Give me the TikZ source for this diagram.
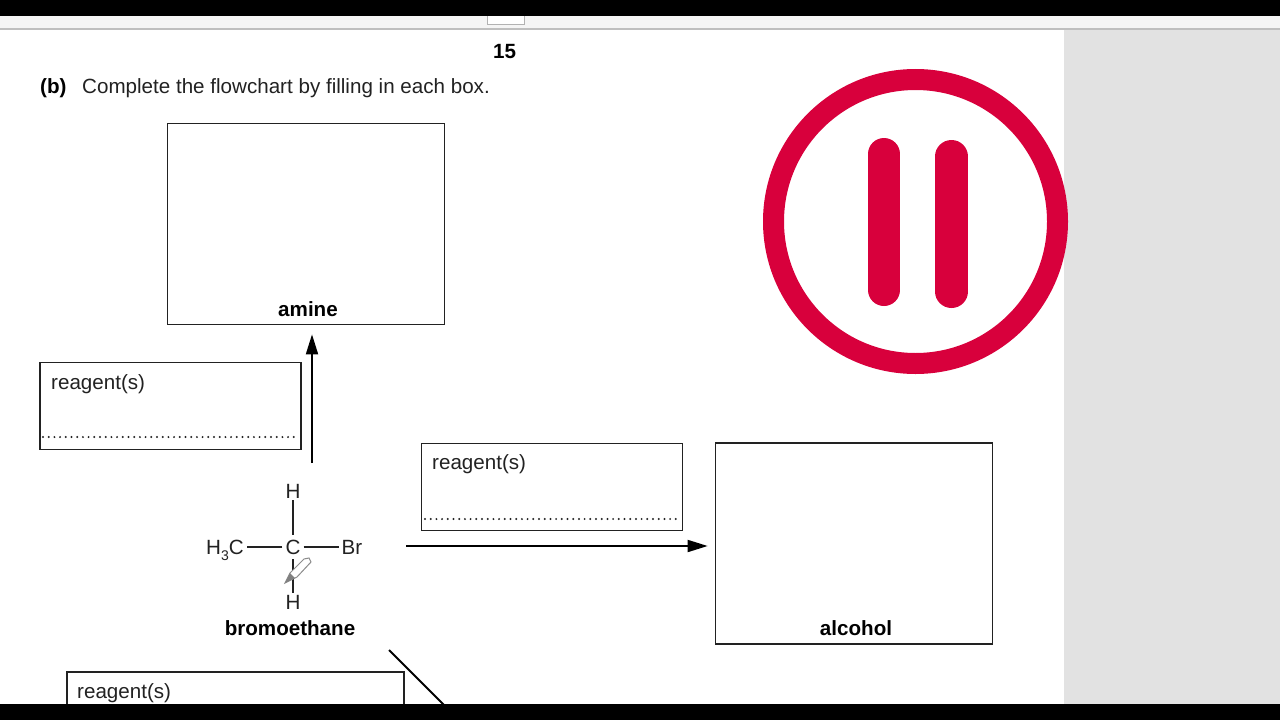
\documentclass[tikz,border=0pt]{standalone}
\usepackage{fontspec}
\setmainfont{Liberation Sans}
\usepackage{tikz}

\definecolor{pausered}{HTML}{D8003C}
\definecolor{inkgrey}{HTML}{222222}
\definecolor{panelgrey}{HTML}{E2E2E2}
\definecolor{barwhite}{HTML}{F5F5F5}

\tikzset{
    answerbox/.style={draw=inkgrey, line width=1.7pt, minimum width=277pt, minimum height=201pt, inner sep=0pt},
    reagentbox/.style={draw=inkgrey, line width=1.7pt, minimum width=261pt, minimum height=87pt, inner sep=0pt},
    label/.style={font=\fontsize{20.6}{24}\selectfont, text=inkgrey, inner sep=0pt},
    boldlabel/.style={font=\fontsize{20.6}{24}\selectfont\bfseries, text=black, inner sep=0pt},
    atom/.style={font=\fontsize{20.6}{24}\selectfont, text=inkgrey, inner xsep=3pt, inner ysep=2pt, text height=14pt, text depth=0pt},
    bond/.style={line width=1.7pt, draw=inkgrey},
    flowarrow/.style={line width=1.8pt, -{Triangle[length=20pt,width=12pt]}},
    dotline/.style={line width=2.2pt, line cap=round, dash pattern=on 0pt off 5.7pt, draw=inkgrey}
}
\usetikzlibrary{arrows.meta}

\begin{document}
\begin{tikzpicture}[x=1pt, y=-1pt]
    \useasboundingbox (0,0) rectangle (1280,720);
    \fill[white] (0,0) rectangle (1280,720);

    \fill[panelgrey] (1064,28) rectangle (1280,704);
    \fill[barwhite] (0,16) rectangle (1280,28);
    \fill[black!25] (0,28) rectangle (1280,30);
    \draw[black!30, fill=white] (487,14) rectangle (524,24);

    \node[boldlabel] (pagenum) at (504.5,52) {15};
    \node[boldlabel, anchor=base west] (partb) at (40,93) {(b)};
    \node[label, anchor=base west] (question) at (82,93) {Complete the flowchart by filling in each box.};

    \node[answerbox] (amine) at (306,224) {};
    \node[answerbox] (alcohol) at (854,543.5) {};
    \node[boldlabel] (aminetext) at (308,309) {amine};
    \node[boldlabel] (alcoholtext) at (856,628) {alcohol};

    \node[reagentbox] (reagentup) at (170.5,406) {};
    \node[reagentbox] (reagentside) at (552,487) {};
    \node[reagentbox, minimum width=337pt, minimum height=43pt] (reagentdown) at (235.5,693.5) {};
    \node[label, anchor=base west] (upkey) at (51,389) {reagent(s)};
    \node[label, anchor=base west] (sidekey) at (432,469) {reagent(s)};
    \node[label, anchor=base west] (downkey) at (77,698) {reagent(s)};

    \coordinate (updotl) at (43,437);
    \coordinate (updotr) at (298,437);
    \coordinate (sidedotl) at (425,519);
    \coordinate (sidedotr) at (680,519);
    \draw[dotline] (updotl) -- (updotr);
    \draw[dotline] (sidedotl) -- (sidedotr);

    \node[atom, inner ysep=5pt] (carbon) at (293,547) {C};
    \node[atom] (htop) at (293,491) {H};
    \node[atom] (hbot) at (293,602) {H};
    \node[atom] (methyl) at (225,547) {H\smash{\raisebox{-6.5pt}{\fontsize{14}{14}\selectfont 3}}C};
    \node[atom] (bromine) at (352,547) {Br};
    \node[boldlabel] (bromotext) at (290,628.5) {bromoethane};

    \draw[bond] (carbon) -- (htop);
    \draw[bond] (carbon) -- (hbot);
    \draw[bond] (carbon) -- (methyl);
    \draw[bond] (carbon) -- (bromine);

    \coordinate (upstart) at (312,463);
    \coordinate (sidestart) at (406,546);
    \coordinate (diagstart) at (389,650);
    \coordinate (diagend) at (446,707);
    \draw[flowarrow, shorten >=9pt] (upstart) -- (upstart |- amine.south);
    \draw[flowarrow, shorten >=7pt] (sidestart) -- (sidestart -| alcohol.west);
    \draw[line width=1.8pt, black] (diagstart) -- (diagend);

    % pen cursor
    \draw[black!45, fill=white, line width=1pt] (285,583) -- (290,573) -- (304,559) -- (309,558) -- (311,562) -- (297,577) -- cycle;
    \fill[black!50] (285,583) -- (290,573) -- (295,578) -- cycle;

    % pause sign
    \draw[pausered, line width=21pt] (915.5,221.5) circle (142);
    \draw[pausered, line width=32pt, line cap=round] (884,154) -- (884,290);
    \draw[pausered, line width=33pt, line cap=round] (951.5,156.5) -- (951.5,291.5);

    \fill[black] (0,0) rectangle (1280,16);
    \fill[black] (0,704) rectangle (1280,720);
\end{tikzpicture}
\end{document}
